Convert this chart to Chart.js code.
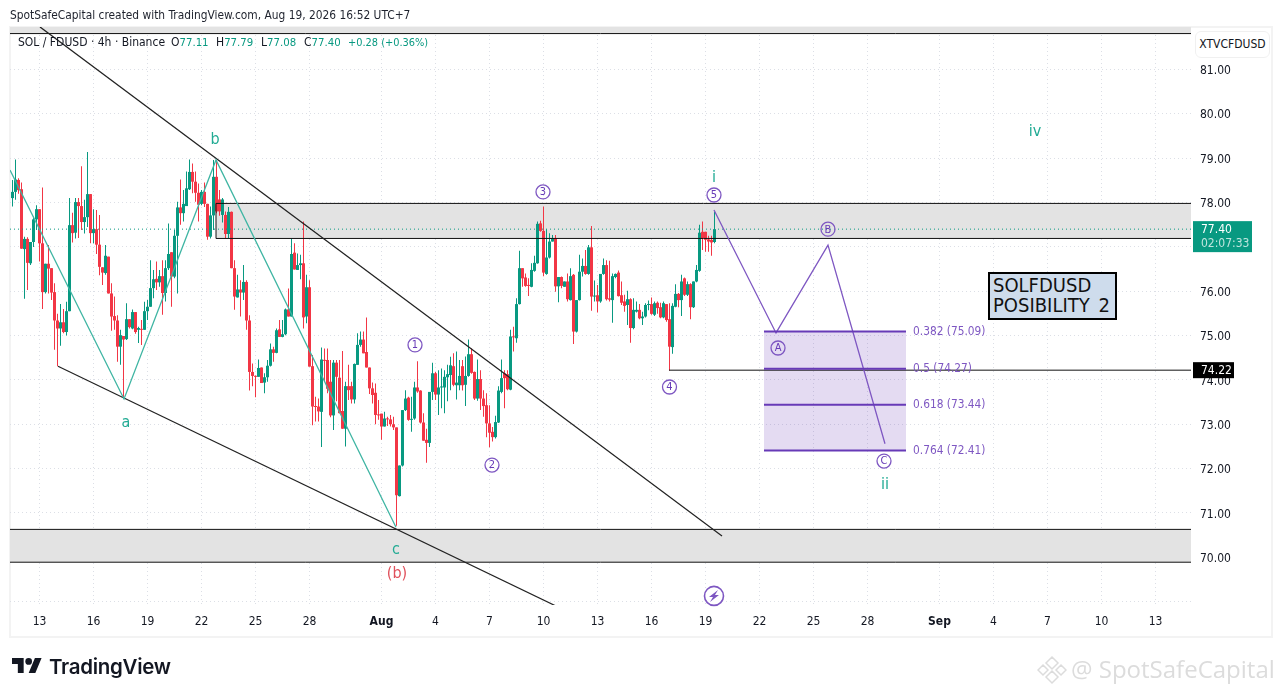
<!DOCTYPE html>
<html>
<head>
<meta charset="utf-8">
<title>SOL / FDUSD 4h</title>
<script src="https://cdn.jsdelivr.net/npm/chart.js@4/dist/chart.umd.min.js"></script>
<style>
  html, body { margin: 0; padding: 0; background: #fff; overflow: hidden; }
  body { width: 1281px; height: 696px; position: relative; font-family: "DejaVu Sans Condensed", "DejaVu Sans", sans-serif; font-stretch: condensed; color: #131722; }
  canvas { position: absolute; left: 0; top: 0; }
  .abs { position: absolute; white-space: pre; }
  #frame { left: 9px; top: 26px; width: 1260px; height: 608px; border: 2px solid #f3f3f3; }
  #head { left: 10px; top: 7px; font-size: 11.85px; line-height: 16px; color: #1e222d; }
  .lg { top: 34px; font-size: 12px; line-height: 16px; color: #131722; }
  .lg b { font-weight: 400; color: #089981; font-size: 11.3px; }
  #curr { left: 1195px; top: 31px; width: 73px; height: 25px; border: 1px solid #f0f0f0; border-radius: 6px;
          font-size: 12px; line-height: 25px; text-align: center; background: #fff; }
  #note { left: 988px; top: 272px; width: 122px; border: 2.5px solid #000; background: #cedcec;
          font-size: 20px; line-height: 20px; padding: 1px 0 0 3px; height: 43px; word-spacing: 3px; color: #111; }
  #brand { left: 49px; top: 653px; font-family: Inter, sans-serif; font-stretch: normal; font-weight: 600; font-size: 20.5px; line-height: 28px; color: #131722; letter-spacing: -0.3px; }
  #logo { left: 12px; top: 658px; }
  #mark { left: 1071px; top: 653px; font-family: "Open Sans", sans-serif; font-stretch: normal; font-size: 24px; line-height: 32px; color: #dcdcdc; }
  #coin { left: 1037px; top: 655px; }
</style>
</head>
<body>
<div id="frame" class="abs"></div>
<canvas id="chart" width="1281" height="696"></canvas>
<div id="head" class="abs">SpotSafeCapital created with TradingView.com, Aug 19, 2026 16:52 UTC+7</div>
<div class="abs lg" style="left:18px">SOL / FDUSD · 4h · Binance</div>
<div class="abs lg" style="left:171px">O<b>77.11</b></div>
<div class="abs lg" style="left:216px">H<b>77.79</b></div>
<div class="abs lg" style="left:261px">L<b>77.08</b></div>
<div class="abs lg" style="left:304px">C<b>77.40</b></div>
<div class="abs lg" style="left:348px"><b style="font-size:10.9px">+0.28 (+0.36%)</b></div>
<div id="curr" class="abs">XTVCFDUSD</div>
<div id="note" class="abs">SOLFDUSD
POSIBILITY 2</div>
<svg id="logo" class="abs" width="30" height="16" viewBox="0 0 36 19"><path fill="#131722" d="M14 18H7V7H0V0h14v18zM28 18h-8L27.5 0h8L28 18z"/><circle fill="#131722" cx="20" cy="4" r="4"/></svg>
<div id="brand" class="abs">TradingView</div>
<svg id="coin" class="abs" width="30" height="30" viewBox="0 0 30 30" fill="none" stroke="#dcdcdc" stroke-width="1.5"><path d="M15 2l6 6-6 6-6-6zM6 10l5 5-5 5-5-5zM24 10l5 5-5 5-5-5zM15 16l6 6-6 6-6-6z"/></svg>
<div id="mark" class="abs">@ SpotSafeCapital</div>

<script>
// свечи SOL/FDUSD 4h
const opens = [
  78.10,78.24,78.51,78.30,76.95,77.18,76.63,77.11,77.62,77.85,
  77.08,75.98,76.62,76.52,75.98,75.34,75.16,75.30,75.08,75.55,
  77.49,77.32,78.01,77.92,77.56,77.67,78.19,77.31,77.40,77.05,
  76.54,76.41,76.78,75.95,75.44,75.34,74.75,74.99,74.92,75.37,
  75.16,75.53,75.13,75.15,75.13,75.55,75.65,76.07,76.28,76.20,
  76.34,75.96,76.52,76.88,76.33,77.25,77.89,77.76,77.92,78.30,
  78.69,78.47,78.22,77.97,78.24,77.97,77.23,77.71,78.58,78.07,
  77.72,77.72,77.29,77.79,76.52,75.86,76.04,75.97,76.21,75.34,
  74.18,74.09,74.07,74.28,73.94,74.06,74.32,74.69,74.61,75.14,
  74.97,75.03,75.59,75.43,76.87,76.48,76.59,76.63,75.43,76.09,
  74.31,73.40,73.40,73.28,74.45,74.45,73.96,73.20,74.39,74.05,
  73.30,72.90,73.86,73.86,73.56,74.34,74.79,74.91,74.63,74.28,
  73.81,73.71,73.22,73.24,72.95,73.13,73.11,73.00,72.93,71.38,
  72.07,73.32,73.60,73.10,73.13,73.83,73.76,73.04,72.65,72.58,
  73.73,74.15,73.67,73.83,73.83,74.06,74.11,74.31,73.88,73.88,
  74.31,73.89,74.09,74.58,74.18,73.58,74.02,73.58,73.43,73.02,
  72.83,72.71,73.04,73.73,74.15,74.13,73.78,74.98,74.94,75.71,
  76.52,76.31,76.14,76.10,76.46,76.63,77.53,77.36,76.39,76.76,
  77.12,77.20,76.11,76.32,76.10,76.22,75.80,76.37,75.09,75.80,
  76.44,76.57,76.39,76.99,75.88,75.91,75.77,76.39,76.59,75.84,
  75.80,76.32,76.42,75.91,75.77,75.69,75.82,75.17,75.54,75.58,
  75.39,75.43,75.69,75.71,75.47,75.74,75.64,75.41,75.71,75.37,
  74.74,75.65,75.94,75.80,76.29,75.92,76.16,75.64,76.22,76.46,
  77.34,77.34,77.17,77.16,77.11
];
const highs = [
  78.51,78.97,78.55,78.45,77.23,77.22,77.11,77.68,77.94,77.85,
  78.34,76.62,77.04,76.52,76.18,75.49,75.71,75.60,75.76,78.10,
  77.77,78.10,78.10,78.82,78.06,79.14,78.19,77.85,77.83,77.72,
  76.54,77.04,76.78,76.18,75.88,75.46,75.13,74.99,75.73,75.37,
  75.59,75.53,75.20,75.35,75.76,75.80,76.70,76.48,76.67,76.48,
  76.70,76.70,77.53,76.88,77.38,78.02,78.52,78.28,78.70,78.97,
  78.88,78.70,78.43,78.28,78.45,77.97,77.91,78.96,78.96,78.28,
  78.10,77.80,77.90,77.80,76.70,76.37,76.25,76.59,76.25,75.46,
  74.37,74.10,74.46,74.28,74.15,74.45,74.82,74.75,75.16,75.35,
  75.35,75.61,76.06,77.19,77.08,76.85,76.82,77.57,76.37,76.25,
  74.56,73.62,73.58,74.73,74.71,74.71,74.45,74.45,74.45,74.45,
  74.65,73.96,74.34,73.96,74.37,75.05,75.09,75.09,75.41,74.28,
  73.94,73.92,73.55,73.24,73.28,73.17,73.21,73.17,72.93,72.07,
  73.32,73.77,73.62,73.62,73.96,74.42,73.77,73.25,72.90,73.73,
  74.39,74.18,74.22,74.26,74.22,74.34,74.52,74.60,74.64,74.45,
  74.45,74.53,74.91,74.71,74.19,74.46,74.22,73.77,73.70,73.43,
  72.94,73.19,73.86,74.46,74.22,74.22,75.13,75.20,75.84,76.91,
  76.52,76.40,76.29,76.63,76.80,77.57,77.59,77.91,77.40,77.31,
  77.27,77.27,76.32,76.33,76.22,76.40,76.52,76.39,75.80,76.82,
  76.74,76.93,77.04,77.47,76.24,76.14,76.39,76.74,76.70,76.69,
  76.40,76.40,76.47,76.22,75.92,76.01,75.84,75.84,75.77,75.71,
  75.54,75.73,75.79,75.86,75.77,75.77,75.74,75.77,75.71,75.73,
  75.73,76.16,75.96,76.37,76.31,76.22,76.18,76.22,76.59,77.50,
  77.57,77.34,77.25,77.25,77.79
];
const lows = [
  77.91,78.06,78.20,76.96,75.83,76.03,76.59,77.00,77.38,76.67,
  75.60,75.95,75.95,75.80,74.68,74.31,74.77,75.05,75.00,75.55,
  77.10,77.19,77.20,77.38,77.30,77.45,77.08,77.08,76.84,76.36,
  76.14,76.37,75.95,75.11,75.13,74.41,74.34,73.59,74.90,75.16,
  75.14,75.04,74.83,74.79,75.13,75.35,75.65,75.84,76.03,76.10,
  75.47,75.77,76.48,75.65,76.29,75.95,77.50,77.57,77.92,78.28,
  78.21,78.02,77.57,77.94,77.90,77.16,77.19,77.38,77.76,77.70,
  77.55,77.20,77.20,76.52,75.58,75.86,75.43,75.80,75.13,73.76,
  73.86,73.61,74.07,73.93,73.70,73.96,74.30,74.41,74.60,74.97,
  74.96,75.01,75.43,75.43,76.49,76.48,76.27,75.16,75.28,74.30,
  72.98,73.06,73.06,72.49,73.96,73.70,73.16,72.87,73.52,73.25,
  72.90,72.50,73.55,73.47,73.47,74.34,74.75,74.60,74.28,73.68,
  73.47,73.00,73.10,72.65,72.95,72.96,72.95,72.87,70.71,71.37,
  72.05,73.30,73.08,72.83,73.10,73.71,73.02,72.63,72.13,72.49,
  73.55,73.55,73.21,73.36,73.25,73.52,73.77,73.86,73.56,73.77,
  73.76,73.41,74.07,74.14,73.55,73.53,73.32,73.17,72.71,72.48,
  72.61,72.68,73.03,73.70,73.36,73.77,73.77,74.64,74.84,75.70,
  76.10,76.10,75.89,76.09,76.44,76.62,77.34,76.34,76.37,76.74,
  77.12,75.99,75.75,76.07,76.10,75.77,75.79,74.81,75.07,75.79,
  76.33,76.37,76.37,75.56,75.77,75.52,75.74,76.37,75.79,75.77,
  75.29,76.29,75.88,75.69,75.54,75.24,74.84,75.14,75.52,75.37,
  75.24,75.41,75.57,75.47,75.44,75.49,75.39,75.39,75.31,74.21,
  74.59,75.64,75.64,75.44,75.89,75.89,75.37,75.62,76.20,76.44,
  76.93,76.89,76.89,76.80,77.08
];
const closes = [
  78.24,78.52,78.28,76.96,77.18,76.64,77.11,77.62,77.85,77.08,
  75.98,76.62,76.51,75.97,75.34,75.16,75.30,75.08,75.55,77.49,
  77.31,78.01,77.92,77.56,77.67,78.19,77.31,77.40,77.05,76.55,
  76.42,76.80,75.95,75.43,75.34,74.75,75.01,74.91,75.37,75.19,
  75.53,75.08,75.17,75.13,75.55,75.65,76.07,76.27,76.20,76.34,
  75.96,76.52,76.84,76.33,77.25,77.89,77.76,77.97,78.32,78.69,
  78.47,78.22,77.95,78.24,77.97,77.23,77.71,78.58,77.80,77.80,
  78.07,77.29,77.79,76.52,75.88,76.04,75.97,76.21,75.34,74.18,
  74.09,74.07,74.27,73.93,74.06,74.32,74.69,74.61,75.12,74.97,
  75.03,75.59,75.43,76.84,76.49,76.59,76.63,75.41,76.09,74.30,
  73.40,73.39,73.29,74.46,74.43,73.80,73.20,74.39,74.07,73.25,
  72.90,73.86,73.77,73.56,74.36,74.79,74.91,74.60,74.28,73.81,
  73.66,73.21,73.20,72.95,73.13,73.11,73.00,72.93,71.40,72.07,
  73.32,73.58,73.10,73.12,73.83,73.74,73.04,72.63,72.58,73.73,
  74.15,73.67,73.83,73.85,74.07,74.13,74.33,73.89,73.94,74.09,
  73.88,74.09,74.58,74.16,73.58,74.02,73.58,73.41,73.02,72.81,
  72.71,73.05,73.76,74.04,74.04,73.79,74.98,74.96,75.71,76.52,
  76.29,76.12,76.12,76.48,76.64,77.52,77.36,76.42,76.76,77.12,
  77.20,76.11,76.32,76.12,76.22,75.82,76.34,75.09,75.80,76.44,
  76.57,76.39,76.99,75.88,75.90,75.77,76.39,76.59,75.82,75.81,
  76.34,76.39,75.89,75.74,75.67,75.82,75.17,75.58,75.58,75.39,
  75.43,75.69,75.71,75.49,75.73,75.62,75.41,75.73,75.35,74.75,
  75.67,75.94,75.80,76.22,75.92,76.16,75.64,76.22,76.48,77.32,
  77.19,77.16,77.12,77.10,77.40
];

// оси: x в номерах свечей
const xMin = -0.8333, xMax = 392.8333;
const yMin = 68.925, yMax = 81.958;
const xTickIndex = [9,27,45,63,81,99,123,141,159,177,195,213,231,249,267,285,309,327,345,363,381];
const xTickLabels = ['13','16','19','22','25','28','Aug','4','7','10','13','16','19','22','25','28','Sep','4','7','10','13'];
const yTickValues = [69,70,71,72,73,74,75,76,77,78,79,80,81];
const yHiddenTicks = [69,77];

// зоны и линии разметки [x, цена]
const zoneTop = { from: xMin, to: xMax, hi: yMax, lo: 81.81 };
const zoneMid = { from: 67.83, to: xMax, hi: 77.98, lo: 77.19 };
const zoneLow = { from: xMin, to: xMax, hi: 70.63, lo: 69.89 };
const channelUpper = [[9.17,81.96],[236.5,70.48]];
const channelLower = [[15.17,74.31],[181.83,68.88]];
const waveTeal = [[-0.83,78.73],[37.17,73.57],[67.83,78.96],[127.83,70.68]];
const wavePurple = [[233.83,77.83],[254.5,75.06],[271.83,77.04],[290.83,72.56]];
const lowLine = [[218.83,74.22],[xMax,74.22]];
const lastPrice = 77.40;
const lowPrice = 74.22;

// фибо
const fibFrom = 250.5, fibTo = 297.83;
const fibLevels = [75.09,74.25,73.44,72.41];
const fibLabels = ['0.382 (75.09)','0.5 (74.27)','0.618 (73.44)','0.764 (72.41)'];
const fibLabelIndex = 300.17;

// подписи волн
const waveLabels = [
  ['b',67.5,79.41,'#22ab94'],['a',37.83,73.03,'#22ab94'],['c',127.83,70.17,'#22ab94'],['(b)',128.17,69.62,'#e0515c'],
  ['iv',340.83,79.59,'#22ab94'],['i',233.83,78.55,'#22ab94'],['ii',290.83,71.63,'#22ab94']
];
const circleLabels = [
  ['1',134.17,74.79],['2',159.83,72.08],['3',176.83,78.24],['4',219,73.84],['5',233.83,78.17],
  ['A',255.17,74.72],['B',271.83,77.40],['C',290.5,72.17]
];
const boltPoint = [233.83,69.13];

const FONT = '"DejaVu Sans Condensed", "DejaVu Sans", sans-serif';
const UP = '#089981', DOWN = '#f23645', PURPLE = '#673ab7', BLACK = '#111';
const candleColors = closes.map((c, i) => c >= opens[i] ? UP : DOWN);
const toPts = arr => arr.map(p => ({ x: p[0], y: p[1] }));

function lineDs(points, color, width, order, extra) {
  return Object.assign({
    type: 'line', data: toPts(points), borderColor: color, borderWidth: width,
    pointRadius: 0, tension: 0, fill: false, order: order
  }, extra || {});
}
function zoneDs(z) {
  return lineDs([[z.from,z.hi],[z.to,z.hi]], 'transparent', 0, 20, { fill: { value: z.lo }, backgroundColor: '#e3e3e3' });
}
// при grouped:false barThickness не работает, ширину задаёт maxBarThickness
function candleDs(values, width, order, extra) {
  return Object.assign({
    type: 'bar', data: values, backgroundColor: candleColors, maxBarThickness: width,
    barPercentage: 1, categoryPercentage: 1, inflateAmount: 0, grouped: false, order: order
  }, extra || {});
}

const datasets = [
  zoneDs(zoneTop), zoneDs(zoneMid), zoneDs(zoneLow),
  lineDs([[fibFrom,fibLevels[0]],[fibTo,fibLevels[0]]], 'transparent', 0, 19, { fill: { value: fibLevels[3] }, backgroundColor: 'rgba(103,58,183,0.18)' }),
  candleDs(closes.map((c, i) => ({ x: i, y: [lows[i], highs[i]] })), 1, 11),
  candleDs(closes.map((c, i) => ({ x: i, y: [opens[i], c] })), 3, 10, { minBarLength: 1 }),
  lineDs([[xMin,lastPrice],[xMax,lastPrice]], UP, 1, 9, { borderDash: [1,3] }),
  lineDs([[zoneTop.from,zoneTop.lo],[zoneTop.to,zoneTop.lo]], BLACK, 1, 5),
  lineDs([[zoneMid.from,zoneMid.hi],[zoneMid.to,zoneMid.hi]], BLACK, 1, 5),
  lineDs([[zoneMid.from,zoneMid.lo],[zoneMid.to,zoneMid.lo]], BLACK, 1, 5),
  lineDs([[zoneMid.from,zoneMid.hi],[zoneMid.from + 0.01,zoneMid.lo]], BLACK, 1, 5),
  lineDs([[zoneLow.from,zoneLow.hi],[zoneLow.to,zoneLow.hi]], BLACK, 1, 5),
  lineDs([[zoneLow.from,zoneLow.lo],[zoneLow.to,zoneLow.lo]], BLACK, 1, 5),
  lineDs(channelUpper, '#222', 1.2, 4),
  lineDs(channelLower, '#222', 1.2, 4),
  lineDs(lowLine, BLACK, 1, 4),
  lineDs(waveTeal, '#3fb5a3', 1.3, 3),
  lineDs(wavePurple, '#7e57c2', 1.3, 2)
];
fibLevels.forEach(v => datasets.push(lineDs([[fibFrom,v],[fibTo,v]], PURPLE, 2, 1)));

const overlayPlugin = {
  id: 'overlay',
  afterDatasetsDraw(chart) {
    const c = chart.ctx, x = chart.scales.x, y = chart.scales.y;
    c.save();
    c.textBaseline = 'middle';
    c.textAlign = 'center';
    waveLabels.forEach(l => {
      c.fillStyle = l[3];
      c.font = '16px ' + FONT;
      c.fillText(l[0], x.getPixelForValue(l[1]), y.getPixelForValue(l[2]));
    });
    circleLabels.forEach(l => {
      const px = x.getPixelForValue(l[1]), py = y.getPixelForValue(l[2]);
      c.strokeStyle = '#7e57c2';
      c.lineWidth = 1.3;
      c.beginPath();
      c.arc(px, py, 7, 0, Math.PI * 2);
      c.stroke();
      c.fillStyle = '#673ab7';
      c.font = '11px ' + FONT;
      c.fillText(l[0], px, py + 0.5);
    });
    // молния
    const bx = x.getPixelForValue(boltPoint[0]), by = y.getPixelForValue(boltPoint[1]);
    c.fillStyle = '#fff';
    c.strokeStyle = '#7e57c2';
    c.lineWidth = 1.6;
    c.beginPath();
    c.arc(bx, by, 9.5, 0, Math.PI * 2);
    c.fill();
    c.stroke();
    c.fillStyle = '#7e57c2';
    c.beginPath();
    c.moveTo(bx + 4, by - 6); c.lineTo(bx - 5, by + 1); c.lineTo(bx - 1, by + 1);
    c.lineTo(bx - 4, by + 6); c.lineTo(bx + 5, by - 1); c.lineTo(bx + 1, by - 1);
    c.closePath();
    c.fill();
    // подписи фибо
    c.textAlign = 'left';
    c.fillStyle = '#7e57c2';
    c.font = '11.8px ' + FONT;
    fibLevels.forEach((v, i) => c.fillText(fibLabels[i], x.getPixelForValue(fibLabelIndex), y.getPixelForValue(v)));
    // ценовые метки
    const ly = y.getPixelForValue(lastPrice), my = y.getPixelForValue(lowPrice);
    c.fillStyle = UP;
    c.fillRect(1193, ly - 8, 59, 31);
    c.fillStyle = '#fff';
    c.font = '12px ' + FONT;
    c.fillText(lastPrice.toFixed(2), 1201, ly + 1);
    c.fillStyle = '#bfe5de';
    c.fillText('02:07:33', 1201, ly + 15);
    c.fillStyle = '#000';
    c.fillRect(1193, my - 8, 41, 16);
    c.fillStyle = '#fff';
    c.fillText(lowPrice.toFixed(2), 1201, my + 1);
    c.restore();
  }
};

new Chart(document.getElementById('chart'), {
  type: 'bar',
  data: { datasets: datasets },
  plugins: [overlayPlugin],
  options: {
    responsive: false,
    animation: false,
    layout: { padding: { left: 10, top: 27, right: 10, bottom: 60 } },
    plugins: { legend: { display: false }, tooltip: { enabled: false } },
    scales: {
      x: {
        type: 'linear', min: xMin, max: xMax, offset: false,
        grid: { color: '#dcdfe6', drawTicks: false, offset: false },
        border: { display: false, dash: [1,3] },
        afterFit: s => { s.height = 31; },
        afterBuildTicks: s => { s.ticks = xTickIndex.map(v => ({ value: v })); },
        ticks: {
          autoSkip: false, maxRotation: 0, padding: 10, color: '#131722',
          font: ctx => ({ family: FONT, size: 12,
            weight: ctx.tick && (ctx.tick.label === 'Aug' || ctx.tick.label === 'Sep') ? '700' : '400' }),
          callback: (v, i) => xTickLabels[i]
        }
      },
      y: {
        position: 'right', min: yMin, max: yMax,
        grid: { color: '#dcdfe6', drawTicks: false },
        border: { display: false, dash: [1,3] },
        afterFit: s => { s.width = 80; },
        afterBuildTicks: s => { s.ticks = yTickValues.map(v => ({ value: v })); },
        ticks: {
          autoSkip: false, padding: 9, color: '#131722',
          // пустая первая строка сдвигает подпись на 1.5px вниз
          font: { family: FONT, size: 12, lineHeight: 0.25 },
          callback: v => yHiddenTicks.includes(v) ? '' : ['', v.toFixed(2)]
        }
      }
    }
  }
});
</script>
</body>
</html>
